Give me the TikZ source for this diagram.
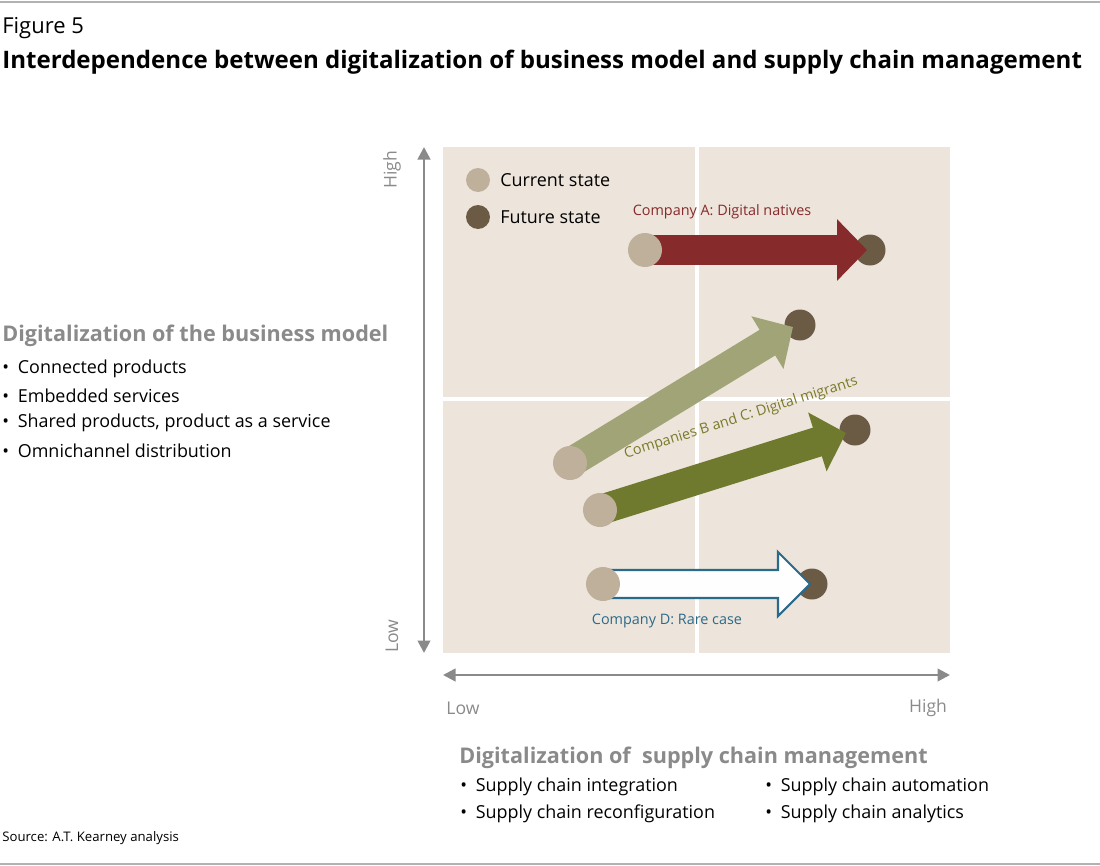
\documentclass[tikz,border=0pt]{standalone}
\usepackage{fontspec}
\setmainfont{Open Sans}
\usetikzlibrary{arrows.meta,calc}
\definecolor{bg}{HTML}{EDE5DB}
\definecolor{cur}{HTML}{BEB09A}
\definecolor{fut}{HTML}{6B5B45}
\definecolor{ared}{HTML}{862A2B}
\definecolor{lgreen}{HTML}{A1A477}
\definecolor{dgreen}{HTML}{6F7A2E}
\definecolor{dblue}{HTML}{2B6A8A}
\definecolor{axg}{HTML}{8A8A8A}
\definecolor{olive}{HTML}{7A7A2A}
\begin{document}
\begin{tikzpicture}[x=0.02cm,y=-0.02cm,
  curc/.style={circle,fill=cur,minimum size=0.68cm,inner sep=0},
  futc/.style={circle,fill=fut,minimum size=0.62cm,inner sep=0},
  bigarrow/.style={line width=0.6cm,-{Triangle[length=0.6cm,width=1.2cm]}},
  txt/.style={anchor=west,inner sep=0,font=\fontsize{10.2}{12}\selectfont},
  axlab/.style={inner sep=0,text=axg,font=\fontsize{10}{12}\selectfont},
  hd/.style={anchor=west,inner sep=0,text=axg,font=\fontsize{12.3}{14}\selectfont\bfseries}]
\useasboundingbox (0,0) rectangle (1100,866);
\draw[gray!60,line width=1pt] (0,2) -- (1100,2);
\draw[gray!60,line width=1pt] (0,864) -- (1100,864);
\node[anchor=west,inner sep=0,font=\fontsize{12.5}{14}\selectfont] (fig) at (2,28) {Figure 5};
\node[anchor=west,inner sep=0,font=\fontsize{13.7}{15}\selectfont\bfseries] (title) at (2,62) {Interdependence between digitalization of business model and supply chain management};
% plot
\fill[bg] (443,147) rectangle (950,653);
\draw[white,line width=2pt] (697,147) -- (697,653);
\draw[white,line width=2pt] (443,399) -- (950,399);
\coordinate (vt) at (424,147); \coordinate (vb) at (424,653);
\draw[axg,line width=1.5pt,{Triangle[length=0.25cm,width=0.25cm]}-{Triangle[length=0.25cm,width=0.25cm]}] (vt) -- (vb);
\coordinate (hl) at (443,675); \coordinate (hr) at (950,675);
\draw[axg,line width=1.5pt,{Triangle[length=0.25cm,width=0.25cm]}-{Triangle[length=0.25cm,width=0.25cm]}] (hl) -- (hr);
\node[axlab,rotate=90] (vhigh) at (392,170) {High};
\node[axlab,rotate=90] (vlow) at (392,636) {Low};
\node[axlab] (hlow) at (463,708) {Low};
\node[axlab] (hhigh) at (928,708) {High};
% legend
\node[circle,fill=cur,minimum size=0.48cm,inner sep=0] (lc) at (478,180) {};
\node[circle,fill=fut,minimum size=0.48cm,inner sep=0] (lf) at (478,217) {};
\node[txt] (lct) at (500,180) {Current state};
\node[txt] (lft) at (500,217) {Future state};
% arrow A
\node[futc] (a2) at (870,250) {};
\draw[bigarrow,ared] (645,250) -- (867,250);
\node[curc] (a1) at (645,250) {};
% arrow B
\node[futc] (b2) at (800,325) {};
\draw[bigarrow,lgreen] (570,463) -- (793,327);
\node[curc] (b1) at (570,463) {};
% arrow C
\node[futc] (c2) at (855,430) {};
\draw[bigarrow,dgreen] (600,510) -- (846,433);
\node[curc] (c1) at (600,510) {};
% arrow D
\node[futc] (d2) at (812,584) {};
\draw[dblue,fill=white!96!bg,line width=1.2pt] (603,570) -- (778,570) -- (778,552) -- (810,584) -- (778,616) -- (778,598) -- (603,598) -- cycle;
\node[curc] (d1) at (603,584) {};
% labels
\node[inner sep=0,text=ared,font=\fontsize{8.2}{10}\selectfont] (la) at (722,212) {Company A: Digital natives};
\node[inner sep=0,text=olive,font=\fontsize{8.2}{10}\selectfont,rotate=17.5] (lb) at (741,418) {Companies B and C: Digital migrants};
\node[inner sep=0,text=dblue,font=\fontsize{8.2}{10}\selectfont] (ld) at (667,621) {Company D: Rare case};
% left text
\node[hd] (bm) at (2,336) {Digitalization of the business model};
\node[txt] (b1t) at (2,369) {\textbullet\hspace{5pt}Connected products};
\node[txt] (b2t) at (2,396) {\textbullet\hspace{5pt}Embedded services};
\node[txt] (b3t) at (2,423) {\textbullet\hspace{5pt}Shared products, product as a service};
\node[txt] (b4t) at (2,451) {\textbullet\hspace{5pt}Omnichannel distribution};
% bottom text
\node[hd] (sc) at (459,758) {Digitalization of\ \ supply chain management};
\node[txt] (s1) at (460,787) {\textbullet\hspace{5pt}Supply chain integration};
\node[txt] (s2) at (460,814) {\textbullet\hspace{5pt}Supply chain reconfiguration};
\node[txt] (s3) at (765,787) {\textbullet\hspace{5pt}Supply chain automation};
\node[txt] (s4) at (765,814) {\textbullet\hspace{5pt}Supply chain analytics};
\node[anchor=west,inner sep=0,font=\fontsize{7.5}{9}\selectfont] (src) at (2,838) {Source: A.T. Kearney analysis};
\end{tikzpicture}
\end{document}
